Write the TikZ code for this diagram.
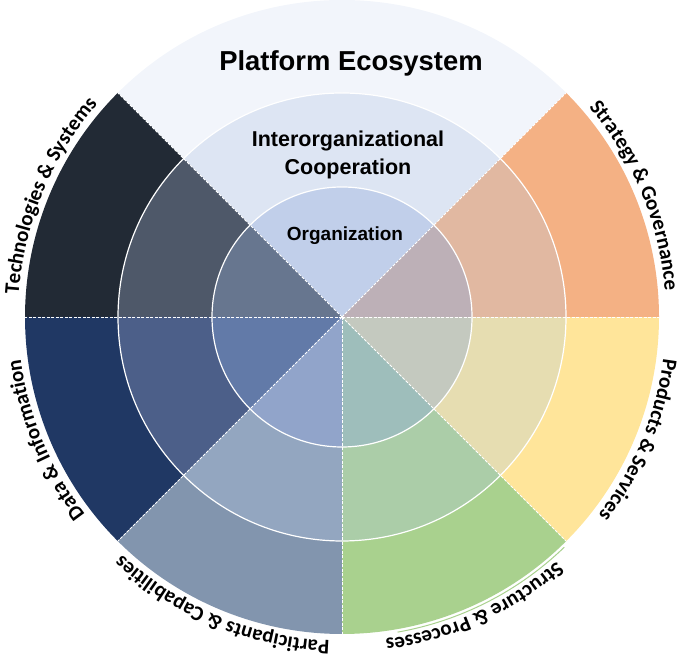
\documentclass[tikz,border=0pt]{standalone}
\usepackage{fontspec}
\setmainfont{Liberation Sans}
\newfontfamily\labfamily{Carlito}
\usetikzlibrary{decorations.text}
\newcommand\labfont{\labfamily\bfseries\fontsize{21}{22}\selectfont}
\newcommand\sectorfill[4]{\fill[#1] (0,0) -- (#2:#4) arc (#2:#3:#4) -- cycle;}

\definecolor{topO}{HTML}{F2F5FB}
\definecolor{topM}{HTML}{DDE5F3}
\definecolor{topI}{HTML}{C1CFEA}
\definecolor{tecO}{HTML}{222A35}
\definecolor{tecM}{HTML}{4E5869}
\definecolor{tecI}{HTML}{67768F}
\definecolor{datO}{HTML}{203864}
\definecolor{datM}{HTML}{4C5F89}
\definecolor{datI}{HTML}{627AA8}
\definecolor{parO}{HTML}{8295AE}
\definecolor{parM}{HTML}{93A6C0}
\definecolor{parI}{HTML}{91A4CA}
\definecolor{strO}{HTML}{A9D18E}
\definecolor{strM}{HTML}{ABCDA8}
\definecolor{strI}{HTML}{9EBEBB}
\definecolor{proO}{HTML}{FFE59A}
\definecolor{proM}{HTML}{E6DDB1}
\definecolor{proI}{HTML}{C4C9BF}
\definecolor{staO}{HTML}{F4B184}
\definecolor{staM}{HTML}{E1B8A1}
\definecolor{staI}{HTML}{BDB0B7}

\begin{document}
\begin{tikzpicture}[
  ring/.style={draw=white, line width=1.2pt},
  spoke/.style={draw=white, line width=0.8pt, dash pattern=on 3pt off 1.5pt},
  bigtitle/.style={font=\bfseries\fontsize{27.4}{30}\selectfont, inner sep=0pt},
  midtitle/.style={font=\bfseries\fontsize{21.5}{28}\selectfont, align=center, inner sep=0pt},
  smalltitle/.style={font=\bfseries\fontsize{19}{22}\selectfont, inner sep=0pt}
]
\useasboundingbox (0,0) rectangle (685pt,663pt);
\begin{scope}[shift={(342pt,346pt)}]
  % outer ring
  \sectorfill{topO}{45}{135}{317pt}
  \sectorfill{tecO}{135}{180}{317pt}
  \sectorfill{datO}{180}{225}{317pt}
  \sectorfill{parO}{225}{270}{317pt}
  \sectorfill{strO}{-90}{-45}{317pt}
  \sectorfill{proO}{-45}{0}{317pt}
  \sectorfill{staO}{0}{45}{317pt}
  \draw[strO, line width=1pt] (-46:320pt) arc (-46:-80:320pt);
  % middle ring
  \sectorfill{topM}{45}{135}{224pt}
  \sectorfill{tecM}{135}{180}{224pt}
  \sectorfill{datM}{180}{225}{224pt}
  \sectorfill{parM}{225}{270}{224pt}
  \sectorfill{strM}{-90}{-45}{224pt}
  \sectorfill{proM}{-45}{0}{224pt}
  \sectorfill{staM}{0}{45}{224pt}
  % inner ring
  \sectorfill{topI}{45}{135}{130pt}
  \sectorfill{tecI}{135}{180}{130pt}
  \sectorfill{datI}{180}{225}{130pt}
  \sectorfill{parI}{225}{270}{130pt}
  \sectorfill{strI}{-90}{-45}{130pt}
  \sectorfill{proI}{-45}{0}{130pt}
  \sectorfill{staI}{0}{45}{130pt}
  % rings
  \draw[ring] (0,0) circle[radius=130pt];
  \draw[ring] (0,0) circle[radius=224pt];
  % spokes
  \foreach \a in {0,45,135,180,225,270,315}
    \draw[spoke] (0,0) -- (\a:317pt);
  % titles
  \node[bigtitle] (pe) at (9pt,254pt) {Platform Ecosystem};
  \node[midtitle] (ioc) at (6pt,162pt) {Interorganizational\\Cooperation};
  \node[smalltitle] (org) at (3pt,81pt) {Organization};
  % curved labels
  \path[decorate, decoration={text along path, text align=center,
     text={|\labfont|Technologies {\&} Systems}}] (180:324pt) arc (180:135:324pt);
  \path[decorate, decoration={text along path, text align=center,
     text={|\labfont|Strategy {\&} Governance}}] (45:324pt) arc (45:0:324pt);
  \path[decorate, decoration={text along path, text align=center,
     text={|\labfont|Products {\&} Services}}] (0:324pt) arc (0:-45:324pt);
  \path[decorate, decoration={text along path, text align=center,
     text={|\labfont|Structure {\&} Processes}}] (-43:325pt) arc (-43:-88:325pt);
  \path[decorate, decoration={text along path, text align=center,
     text={|\labfont|Participants {\&} Capabilities}}] (-90:324pt) arc (-90:-135:324pt);
  \path[decorate, decoration={text along path, text align=center,
     text={|\labfont|Data {\&} Information}}] (225:324pt) arc (225:180:324pt);
\end{scope}
\end{tikzpicture}
\end{document}
